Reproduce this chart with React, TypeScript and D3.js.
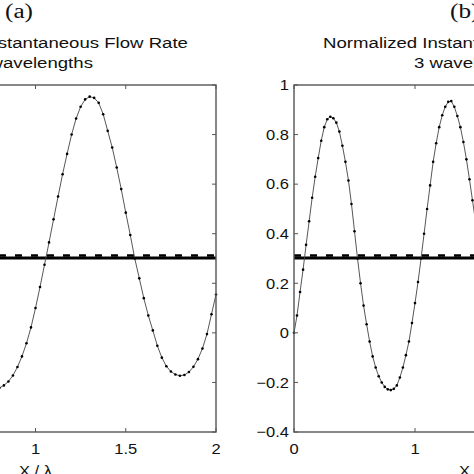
import React from 'react';
import * as d3 from 'd3';

// sampled flow rate, one sample every 1/40 wavelength
const step = 0.025;

// panel (a): 2 wavelengths, samples from x = 0.75 onward
const flowAStart = 0.75;
const flowA = [
  -0.215, -0.224, -0.222, -0.212, -0.196, -0.172, -0.138, -0.095, -0.042, 0.022,
  0.100, 0.185, 0.275, 0.365, 0.458, 0.550, 0.640, 0.722, 0.800, 0.865,
  0.912, 0.942, 0.953, 0.948, 0.928, 0.882, 0.815, 0.748, 0.667, 0.580,
  0.485, 0.395, 0.300, 0.220, 0.140, 0.070, 0.010, -0.052, -0.100, -0.135,
  -0.156, -0.168, -0.173, -0.170, -0.158, -0.137, -0.106, -0.063, -0.005, 0.075,
  0.155,
];

// panel (b): 3 wavelengths, samples from x = 0
const flowBStart = 0;
const flowB = [
  0.000, 0.070, 0.165, 0.255, 0.355, 0.450, 0.545, 0.630, 0.705, 0.775,
  0.830, 0.862, 0.872, 0.866, 0.848, 0.812, 0.755, 0.690, 0.615, 0.520,
  0.410, 0.300, 0.200, 0.110, 0.035, -0.035, -0.095, -0.140, -0.175, -0.200,
  -0.218, -0.228, -0.231, -0.226, -0.212, -0.180, -0.140, -0.090, -0.035, 0.040,
  0.120, 0.205, 0.300, 0.400, 0.500, 0.595, 0.690, 0.765, 0.830, 0.878,
  0.912, 0.932, 0.935, 0.912, 0.875, 0.830, 0.770, 0.700, 0.620, 0.535,
  0.450, 0.360,
];

// mean flow rates (solid and dashed)
const meanSolid = [0.302, 0.302];
const meanDashed = [0.312, 0.312];

const yTicks = [-0.4, -0.2, 0, 0.2, 0.4, 0.6, 0.8, 1];
const xTicksA = [0, 0.5, 1, 1.5, 2];
const xTicksB = [0, 1, 2, 3];

const titleLine1 = 'Normalized Instantaneous Flow Rate';
const titleA = '2 wavelengths';
const titleB = '3 wavelengths';

const W = 474;
const top = 85;
const bottom = 432;
const font = '"Liberation Sans", Arial, Helvetica, sans-serif';
const axisColor = '#555';

type PanelProps = {
  x0: number;
  x1: number;
  xMax: number;
  xTicks: number[];
  values: number[];
  start: number;
  subtitle: string;
  letter: string;
  letterX: number;
};

const fmt = (v: number) => (v < 0 ? '\u2212' + String(Math.abs(v)) : String(v));

const Panel: React.FC<PanelProps> = ({ x0, x1, xMax, xTicks, values, start, subtitle, letter, letterX }) => {
  const x = d3.scaleLinear().domain([0, xMax]).range([x0, x1]);
  const y = d3.scaleLinear().domain([-0.4, 1]).range([bottom, top]);
  const pts: [number, number][] = values.map((v, i) => [start + i * step, v]);
  const line = d3.line<[number, number]>().x(d => x(d[0])).y(d => y(d[1]));
  const cx = (x0 + x1) / 2;
  const tick = 4;
  // labels whose anchor lies outside the page are skipped
  const onPage = (px: number) => px >= 0 && px <= W;

  return (
    <g>
      {/* mean flow lines */}
      <line x1={x0} x2={x1} y1={y(meanSolid[0])} y2={y(meanSolid[1])} stroke="#000" strokeWidth={3.2} />
      <line x1={x0} x2={x1} y1={y(meanDashed[0])} y2={y(meanDashed[1])} stroke="#000" strokeWidth={2.4} strokeDasharray="7,9" />

      {/* flow rate curve with sample markers */}
      <path d={line(pts) || ''} fill="none" stroke="#444" strokeWidth={0.9} />
      {pts.map((p, i) => (
        <circle key={i} cx={x(p[0])} cy={y(p[1])} r={1.3} fill="#000" />
      ))}

      {/* axes box */}
      <rect x={x0} y={top} width={x1 - x0} height={bottom - top} fill="none" stroke={axisColor} strokeWidth={1.4} />
      {xTicks.map(t => (
        <g key={'xt' + t}>
          <line x1={x(t)} x2={x(t)} y1={bottom} y2={bottom - tick} stroke={axisColor} />
          <line x1={x(t)} x2={x(t)} y1={top} y2={top + tick} stroke={axisColor} />
          {onPage(x(t)) && (
            <text transform={`translate(${x(t)},454) scale(1.1,1)`} textAnchor="middle" fontSize={15} fontFamily={font} fill="#111">
              {String(t)}
            </text>
          )}
        </g>
      ))}
      {yTicks.map(t => (
        <g key={'yt' + t}>
          <line x1={x0} x2={x0 + tick} y1={y(t)} y2={y(t)} stroke={axisColor} />
          <line x1={x1} x2={x1 - tick} y1={y(t)} y2={y(t)} stroke={axisColor} />
          {onPage(x0) && (
            <text transform={`translate(${x0 - 5},${y(t) + 5.3}) scale(1.1,1)`} textAnchor="end" fontSize={15} fontFamily={font} fill="#111">
              {fmt(t)}
            </text>
          )}
        </g>
      ))}

      {/* titles and axis label */}
      <text transform={`translate(${cx},48) scale(1.2,1)`} textAnchor="middle" fontSize={15.5} fontFamily={font} fill="#111">
        {titleLine1}
      </text>
      <text transform={`translate(${cx - 2},68) scale(1.2,1)`} textAnchor="middle" fontSize={15.5} fontFamily={font} fill="#111">
        {subtitle}
      </text>
      <text transform={`translate(${cx},476) scale(1.1,1)`} textAnchor="middle" fontSize={15} fontFamily={font} fill="#111">
        X / λ
      </text>
      <text transform={`translate(${letterX},17.5) scale(1.23,1)`} textAnchor="start" fontSize={20.5} fontFamily='"Liberation Serif", "Times New Roman", serif' fill="#111">
        {letter}
      </text>
    </g>
  );
};

const App: React.FC = () => (
  <svg width={W} height={W} style={{ position: 'absolute', left: 0, top: 0, background: '#fff' }}>
    <rect width={W} height={W} fill="#fff" />
    <Panel x0={-145} x1={216} xMax={2} xTicks={xTicksA} values={flowA} start={flowAStart}
      subtitle={titleA} letter="(a)" letterX={5} />
    <Panel x0={294} x1={657} xMax={3} xTicks={xTicksB} values={flowB} start={flowBStart}
      subtitle={titleB} letter="(b)" letterX={450} />
  </svg>
);

export default App;
